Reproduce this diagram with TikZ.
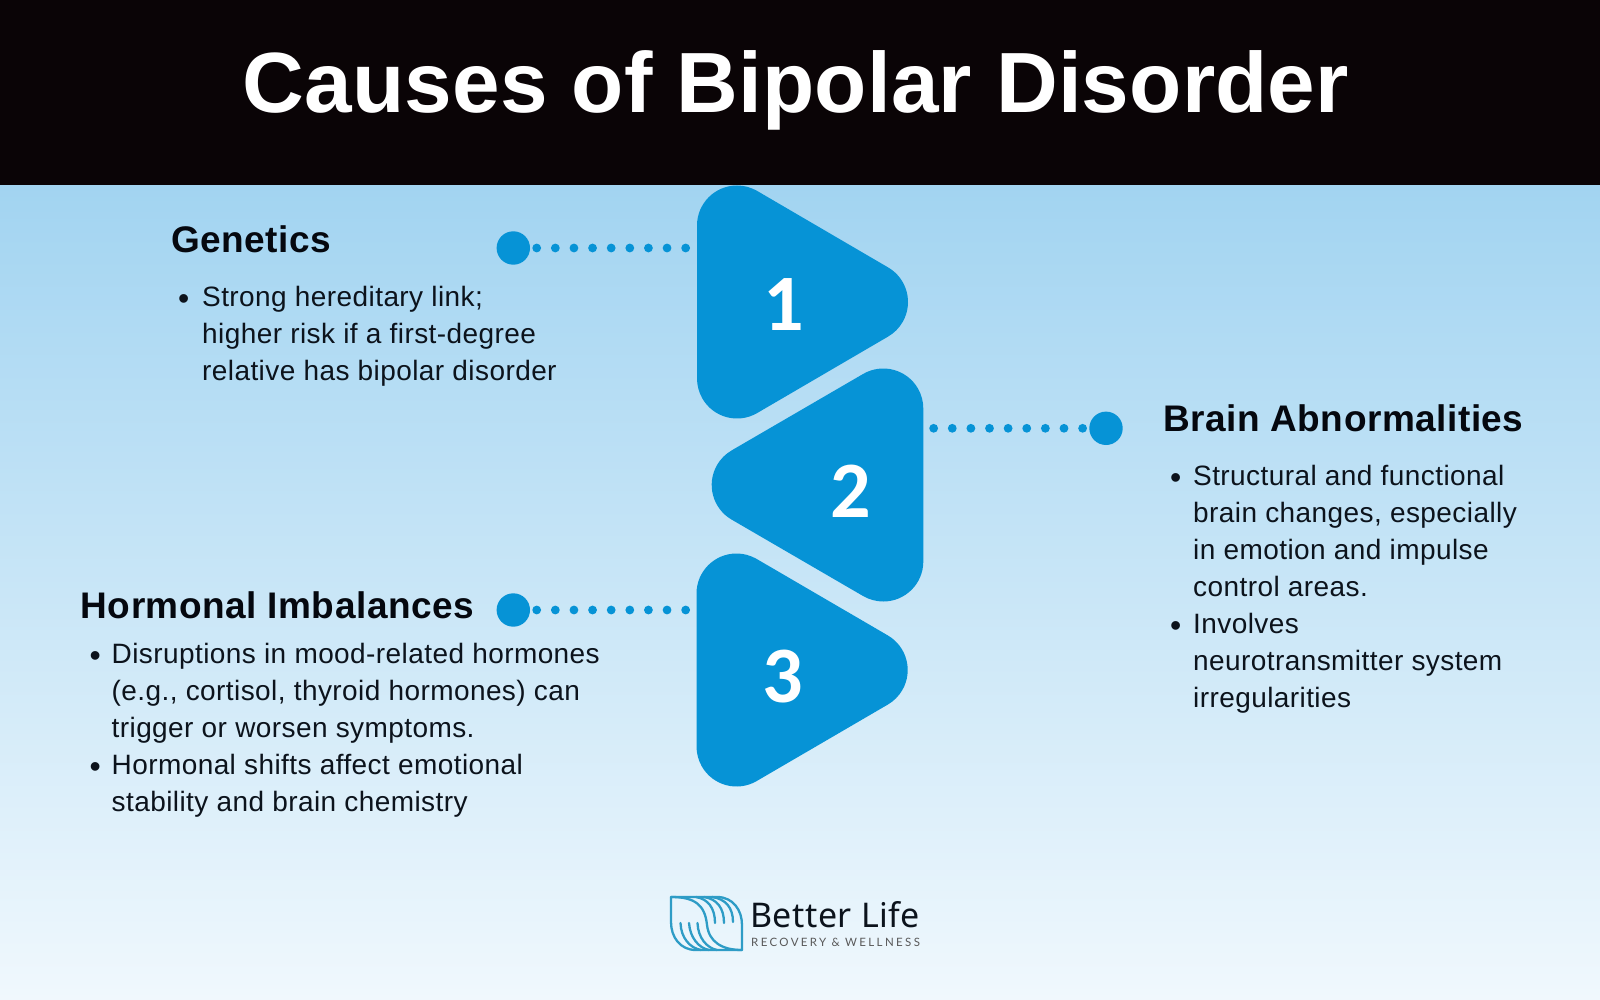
\documentclass[tikz,border=0pt]{standalone}
\usepackage{fontspec}
\setmainfont{Liberation Sans}
\newfontfamily\titlef[LetterSpace=0.2]{Liberation Sans}
\newfontfamily\headf[LetterSpace=1.4]{Liberation Sans}
\newfontfamily\bodyf[LetterSpace=1.5]{Liberation Sans}
\newfontfamily\numf{Carlito}
\newfontfamily\logof[LetterSpace=1.5]{Noto Sans}
\newfontfamily\logosub[LetterSpace=20.5]{Lato}
\definecolor{tblue}{HTML}{0693D6}
\definecolor{ink}{HTML}{0C131C}
\definecolor{headink}{HTML}{05080F}
\definecolor{logoblue}{HTML}{2E9CC6}
\definecolor{headblack}{HTML}{0A0406}
\definecolor{bgtop}{HTML}{A2D4F1}
\definecolor{bgbot}{HTML}{F0F8FD}
\tikzset{
 bodytext/.style={anchor=base west,inner sep=0pt,text=ink,font=\bodyf\fontsize{28}{37}\selectfont},
 bullettext/.style={anchor=base west,inner sep=0pt,text=ink,font=\fontsize{32}{37}\selectfont},
 headtext/.style={anchor=base west,inner sep=0pt,text=headink,font=\headf\bfseries\fontsize{37}{40}\selectfont},
 numtext/.style={anchor=base,inner sep=0pt,text=white,font=\numf\bfseries\fontsize{80}{80}\selectfont},
 bigdot/.style={circle,fill=tblue,minimum size=33.4pt,inner sep=0pt,outer sep=6.7pt},
 dotline/.style={draw=tblue,line width=8.8pt,line cap=round,dash pattern=on 0pt off 18.62pt},
 logoline/.style={draw=logoblue,line width=2.3pt,line cap=round,line join=round}
}
\begin{document}
\begin{tikzpicture}[x=1pt,y=-1pt]
\useasboundingbox (0,0) rectangle (1600,1000);
\shade[top color=bgtop,bottom color=bgbot] (0,185) rectangle (1600,1000);
\fill[headblack] (0,0) rectangle (1600,185);
\node[anchor=base,inner sep=0pt,text=white,font=\titlef\bfseries\fontsize{85.5}{90}\selectfont] (title) at (796,113) {Causes of Bipolar Disorder};
% triangles
\fill[tblue] (697,225.5) arc[start angle=180,end angle=300,radius=40]
 -- ([shift={(300:40)}]868,302) arc[start angle=300,end angle=420,radius=40]
 -- ([shift={(60:40)}]737,378.5) arc[start angle=60,end angle=180,radius=40] -- cycle;
\fill[tblue] ([shift={(120:40)}]751.7,485) arc[start angle=120,end angle=240,radius=40]
 -- ([shift={(240:40)}]883.3,408.5) arc[start angle=240,end angle=360,radius=40]
 -- ([shift={(0:40)}]883.3,561.5) arc[start angle=0,end angle=120,radius=40] -- cycle;
\fill[tblue] (696.5,593.5) arc[start angle=180,end angle=300,radius=40]
 -- ([shift={(300:40)}]867.7,670) arc[start angle=300,end angle=420,radius=40]
 -- ([shift={(60:40)}]736.5,746.5) arc[start angle=60,end angle=180,radius=40] -- cycle;
\node[numtext] (n1) at (784,330.7) {1};
\node[numtext] (n2) at (851,517.7) {2};
\node[numtext] (n3) at (783,702) {3};
% connectors
\node[bigdot] (d1) at (513.3,248) {};
\coordinate (t1) at (687,248);
\draw[dotline] (d1) -- (t1);
\node[bigdot] (d2) at (1106,428.3) {};
\coordinate (t2) at (932,428.3);
\draw[dotline] (d2) -- (t2);
\node[bigdot] (d3) at (513.3,610) {};
\coordinate (t3) at (687,610);
\draw[dotline] (d3) -- (t3);
% genetics
\node[headtext] (h1) at (171,253) {Genetics};
\node[bullettext] (b1) at (178,309) {•};
\node[bodytext] (l11) at (202,306.5) {Strong hereditary link;};
\node[bodytext] (l12) at (202,343.5) {higher risk if a first-degree};
\node[bodytext] (l13) at (202,380.5) {relative has bipolar disorder};
% brain
\node[headtext] (h2) at (1163,431.5) {Brain Abnormalities};
\node[bullettext] (b2) at (1170,488) {•};
\node[bodytext] (l21) at (1193,485.5) {Structural and functional};
\node[bodytext] (l22) at (1193,522.5) {brain changes, especially};
\node[bodytext] (l23) at (1193,559.5) {in emotion and impulse};
\node[bodytext] (l24) at (1193,596.5) {control areas.};
\node[bullettext] (b3) at (1170,636) {•};
\node[bodytext] (l25) at (1193,633.5) {Involves};
\node[bodytext] (l26) at (1193,670.5) {neurotransmitter system};
\node[bodytext] (l27) at (1193,707.5) {irregularities};
% hormonal
\node[headtext] (h3) at (80.5,618.5) {Hormonal Imbalances};
\node[bullettext] (b4) at (89.4,666) {•};
\node[bodytext] (l31) at (111.5,663.5) {Disruptions in mood-related hormones};
\node[bodytext] (l32) at (111.5,700.5) {(e.g., cortisol, thyroid hormones) can};
\node[bodytext] (l33) at (111.5,737.5) {trigger or worsen symptoms.};
\node[bullettext] (b5) at (89.4,777) {•};
\node[bodytext] (l34) at (111.5,774.5) {Hormonal shifts affect emotional};
\node[bodytext] (l35) at (111.5,811.5) {stability and brain chemistry};
% logo
\draw[logoline] (671,897) -- (717,897) .. controls (733,897) and (742,910) .. (742,925) -- (742,950) -- (696,950) .. controls (680,950) and (671,937) .. (671,922) -- cycle;
\draw[logoline] (671,897) .. controls (695,897) and (705,905) .. (707,925) .. controls (709,942) and (722,950) .. (742,950);
\draw[logoline] (696,897) .. controls (708,899) and (715,908) .. (715,923);
\draw[logoline] (704,897) .. controls (717,899) and (724,908) .. (724,923);
\draw[logoline] (712,897) .. controls (726,899) and (733,908) .. (733,922);
\draw[logoline] (680.5,923) .. controls (681,938) and (690,948) .. (701,950);
\draw[logoline] (689,923) .. controls (690,938) and (699,948) .. (709,950);
\draw[logoline] (697.5,923) .. controls (698,938) and (707,948) .. (717,950);
\node[anchor=base west,inner sep=0pt,text=ink,font=\logof\fontsize{34}{36}\selectfont] (logoa) at (750,927) {Better Life};
\node[anchor=base west,inner sep=0pt,text=black!65,font=\logosub\fontsize{11.5}{12}\selectfont] (logob) at (751,946.5) {RECOVERY \& WELLNESS};
\end{tikzpicture}
\end{document}
